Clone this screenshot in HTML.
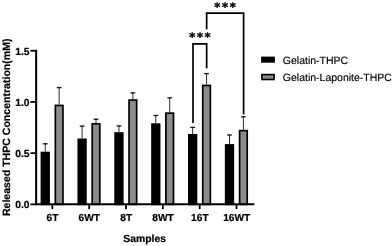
<!DOCTYPE html>
<html><head><meta charset="utf-8"><style>
html,body{margin:0;padding:0;background:#fff;}
body{width:392px;height:246px;overflow:hidden;}
svg{display:block;}
text{text-rendering:geometricPrecision;}
.b{font-family:"Liberation Sans",Arial,sans-serif;font-weight:bold;stroke:#000;stroke-width:0.2px;}
.s{font-family:"DejaVu Sans",sans-serif;font-weight:bold;}
.r{font-family:"Liberation Sans",Arial,sans-serif;stroke:#000;stroke-width:0.15px;}
</style></head><body>
<svg width="392" height="246" viewBox="0 0 392 246">
<rect width="392" height="246" fill="#fff"/>
<line x1="45.25" y1="143.50" x2="45.25" y2="151.70" stroke="#222" stroke-width="0.95"/>
<line x1="42.90" y1="143.80" x2="47.60" y2="143.80" stroke="#111" stroke-width="1.3"/>
<rect x="41.45" y="152.55" width="7.60" height="51.80" fill="#000" stroke="#000" stroke-width="1.7"/>
<line x1="59.15" y1="87.30" x2="59.15" y2="104.60" stroke="#222" stroke-width="0.95"/>
<line x1="56.80" y1="87.60" x2="61.50" y2="87.60" stroke="#111" stroke-width="1.3"/>
<rect x="55.35" y="105.45" width="7.60" height="98.90" fill="#8c8c8c" stroke="#000" stroke-width="1.7"/>
<line x1="82.10" y1="125.80" x2="82.10" y2="138.50" stroke="#222" stroke-width="0.95"/>
<line x1="79.75" y1="126.10" x2="84.45" y2="126.10" stroke="#111" stroke-width="1.3"/>
<rect x="78.30" y="139.35" width="7.60" height="65.00" fill="#000" stroke="#000" stroke-width="1.7"/>
<line x1="96.00" y1="118.90" x2="96.00" y2="123.00" stroke="#222" stroke-width="0.95"/>
<line x1="93.65" y1="119.20" x2="98.35" y2="119.20" stroke="#111" stroke-width="1.3"/>
<rect x="92.20" y="123.85" width="7.60" height="80.50" fill="#8c8c8c" stroke="#000" stroke-width="1.7"/>
<line x1="118.95" y1="125.60" x2="118.95" y2="132.20" stroke="#222" stroke-width="0.95"/>
<line x1="116.60" y1="125.90" x2="121.30" y2="125.90" stroke="#111" stroke-width="1.3"/>
<rect x="115.15" y="133.05" width="7.60" height="71.30" fill="#000" stroke="#000" stroke-width="1.7"/>
<line x1="132.85" y1="92.60" x2="132.85" y2="99.20" stroke="#222" stroke-width="0.95"/>
<line x1="130.50" y1="92.90" x2="135.20" y2="92.90" stroke="#111" stroke-width="1.3"/>
<rect x="129.05" y="100.05" width="7.60" height="104.30" fill="#8c8c8c" stroke="#000" stroke-width="1.7"/>
<line x1="155.80" y1="115.20" x2="155.80" y2="123.30" stroke="#222" stroke-width="0.95"/>
<line x1="153.45" y1="115.50" x2="158.15" y2="115.50" stroke="#111" stroke-width="1.3"/>
<rect x="152.00" y="124.15" width="7.60" height="80.20" fill="#000" stroke="#000" stroke-width="1.7"/>
<line x1="169.70" y1="97.60" x2="169.70" y2="112.30" stroke="#222" stroke-width="0.95"/>
<line x1="167.35" y1="97.90" x2="172.05" y2="97.90" stroke="#111" stroke-width="1.3"/>
<rect x="165.90" y="113.15" width="7.60" height="91.20" fill="#8c8c8c" stroke="#000" stroke-width="1.7"/>
<line x1="192.65" y1="127.10" x2="192.65" y2="134.00" stroke="#222" stroke-width="0.95"/>
<line x1="190.30" y1="127.40" x2="195.00" y2="127.40" stroke="#111" stroke-width="1.3"/>
<rect x="188.85" y="134.85" width="7.60" height="69.50" fill="#000" stroke="#000" stroke-width="1.7"/>
<line x1="206.55" y1="73.30" x2="206.55" y2="84.60" stroke="#222" stroke-width="0.95"/>
<line x1="204.20" y1="73.60" x2="208.90" y2="73.60" stroke="#111" stroke-width="1.3"/>
<rect x="202.75" y="85.45" width="7.60" height="118.90" fill="#8c8c8c" stroke="#000" stroke-width="1.7"/>
<line x1="229.50" y1="134.70" x2="229.50" y2="144.10" stroke="#222" stroke-width="0.95"/>
<line x1="227.15" y1="135.00" x2="231.85" y2="135.00" stroke="#111" stroke-width="1.3"/>
<rect x="225.70" y="144.95" width="7.60" height="59.40" fill="#000" stroke="#000" stroke-width="1.7"/>
<line x1="243.40" y1="116.50" x2="243.40" y2="129.80" stroke="#222" stroke-width="0.95"/>
<line x1="241.05" y1="116.80" x2="245.75" y2="116.80" stroke="#111" stroke-width="1.3"/>
<rect x="239.60" y="130.65" width="7.60" height="73.70" fill="#8c8c8c" stroke="#000" stroke-width="1.7"/>
<path d="M36.15,49.85 V204.35 H254.3" fill="none" stroke="#000" stroke-width="2"/>
<line x1="30.4" y1="204.35" x2="36.15" y2="204.35" stroke="#000" stroke-width="1.8"/>
<text x="29.5" y="208.34" text-anchor="end" class="b" font-size="10.3">0.0</text>
<line x1="30.4" y1="153.15" x2="36.15" y2="153.15" stroke="#000" stroke-width="1.8"/>
<text x="29.5" y="157.14" text-anchor="end" class="b" font-size="10.3">0.5</text>
<line x1="30.4" y1="101.95" x2="36.15" y2="101.95" stroke="#000" stroke-width="1.8"/>
<text x="29.5" y="105.94" text-anchor="end" class="b" font-size="10.3">1.0</text>
<line x1="30.4" y1="50.75" x2="36.15" y2="50.75" stroke="#000" stroke-width="1.8"/>
<text x="29.5" y="54.74" text-anchor="end" class="b" font-size="10.3">1.5</text>
<line x1="52.30" y1="204.35" x2="52.30" y2="209.15" stroke="#000" stroke-width="1.8"/>
<text x="52.50" y="220.8" text-anchor="middle" class="b" font-size="10.2">6T</text>
<line x1="89.15" y1="204.35" x2="89.15" y2="209.15" stroke="#000" stroke-width="1.8"/>
<text x="89.35" y="220.8" text-anchor="middle" class="b" font-size="10.2">6WT</text>
<line x1="126.00" y1="204.35" x2="126.00" y2="209.15" stroke="#000" stroke-width="1.8"/>
<text x="126.20" y="220.8" text-anchor="middle" class="b" font-size="10.2">8T</text>
<line x1="162.85" y1="204.35" x2="162.85" y2="209.15" stroke="#000" stroke-width="1.8"/>
<text x="163.05" y="220.8" text-anchor="middle" class="b" font-size="10.2">8WT</text>
<line x1="199.70" y1="204.35" x2="199.70" y2="209.15" stroke="#000" stroke-width="1.8"/>
<text x="199.90" y="220.8" text-anchor="middle" class="b" font-size="10.2">16T</text>
<line x1="236.55" y1="204.35" x2="236.55" y2="209.15" stroke="#000" stroke-width="1.8"/>
<text x="236.75" y="220.8" text-anchor="middle" class="b" font-size="10.2">16WT</text>
<text x="144.6" y="241.7" text-anchor="middle" class="b" font-size="10.4">Samples</text>
<text transform="translate(9.65,127.3) rotate(-90)" text-anchor="middle" class="b" font-size="10.55">Released THPC Concentration(mM)</text>
<rect x="261.9" y="57.4" width="12.2" height="4.5" fill="#000" stroke="#000" stroke-width="1.6"/>
<rect x="261.9" y="74.6" width="12.2" height="4.9" fill="#8c8c8c" stroke="#000" stroke-width="1.6"/>
<text x="282.8" y="64.1" font-size="10.5" class="r">Gelatin-THPC</text>
<text x="282.8" y="81.4" font-size="10.5" class="r">Gelatin-Laponite-THPC</text>
<path d="M193,123 V43.9 H206.65 V68.3" fill="none" stroke="#000" stroke-width="1.7"/>
<path d="M206.65,29.3 V13.2 H243.6 V114.4" fill="none" stroke="#000" stroke-width="1.7"/>
<text x="189.14" y="41.42" class="s" font-size="11.6" stroke="#000" stroke-width="0.4">*</text>
<text x="196.94" y="41.42" class="s" font-size="11.6" stroke="#000" stroke-width="0.4">*</text>
<text x="204.44" y="41.42" class="s" font-size="11.6" stroke="#000" stroke-width="0.4">*</text>
<text x="214.34" y="10.62" class="s" font-size="11.6" stroke="#000" stroke-width="0.4">*</text>
<text x="221.94" y="10.62" class="s" font-size="11.6" stroke="#000" stroke-width="0.4">*</text>
<text x="229.64" y="10.62" class="s" font-size="11.6" stroke="#000" stroke-width="0.4">*</text>
</svg>
</body></html>
